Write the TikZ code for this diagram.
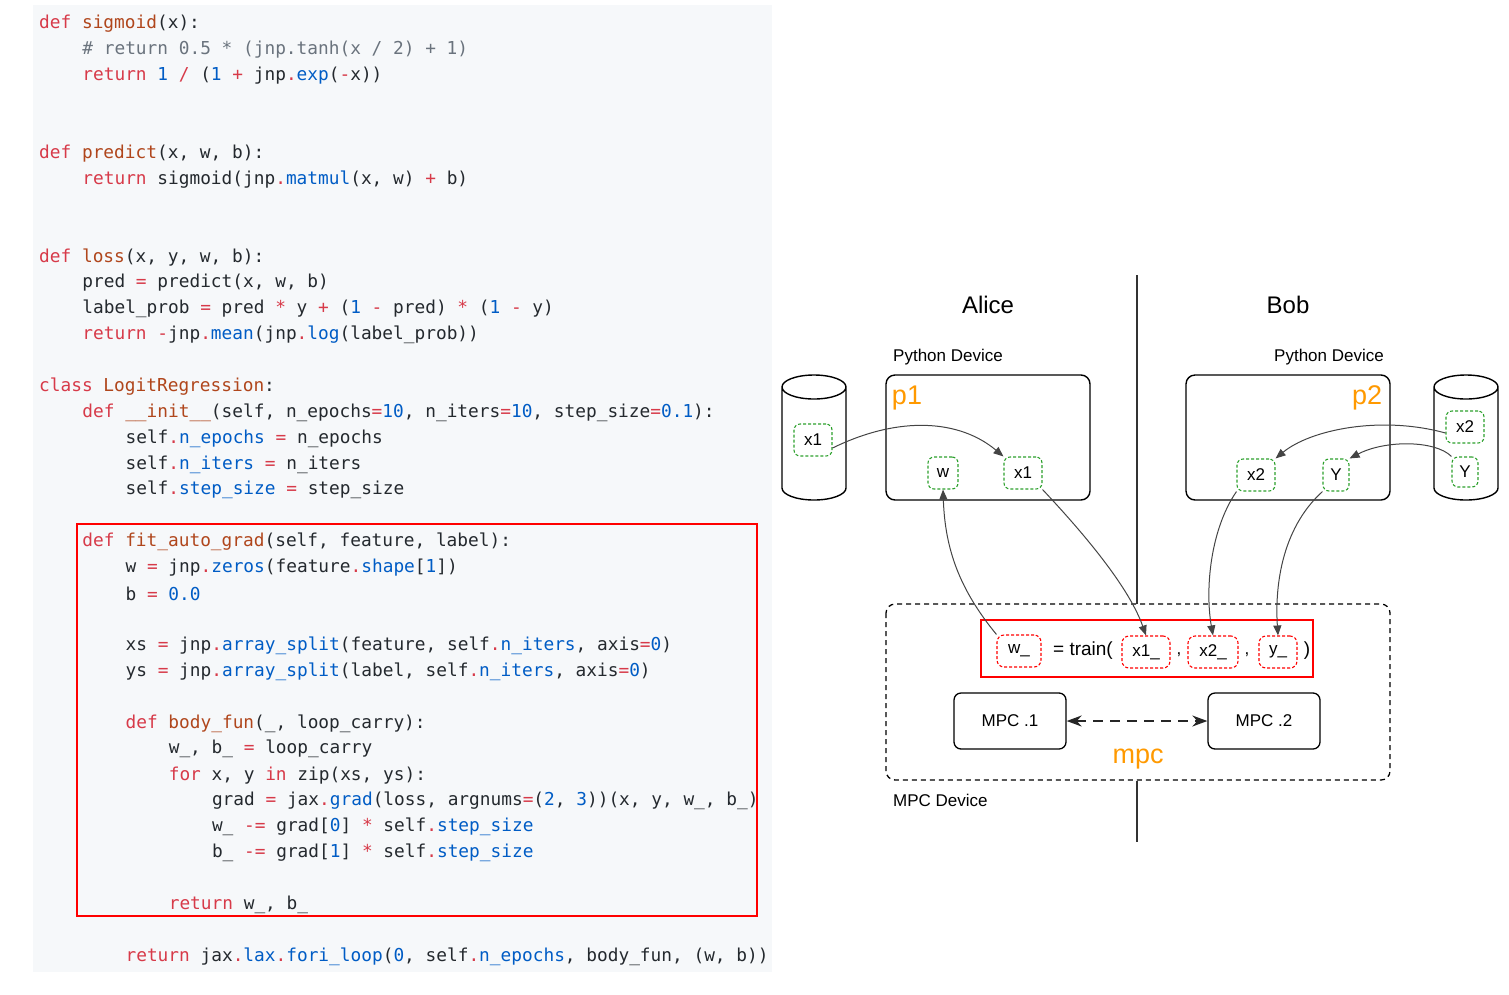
\documentclass[tikz,border=0pt]{standalone}
\usepackage{fontspec}
\setmainfont{Liberation Sans}
\newfontfamily\codefont{DejaVu Sans Mono}
\usetikzlibrary{shapes.geometric,arrows.meta}
\definecolor{ckw}{HTML}{D73A49}
\definecolor{cfn}{HTML}{B0461C}
\definecolor{cnum}{HTML}{005CC5}
\definecolor{ctxt}{HTML}{24292E}
\definecolor{ccom}{HTML}{6A737D}
\definecolor{codebg}{HTML}{F6F8FA}
\definecolor{orng}{HTML}{FF9900}
\definecolor{grn}{HTML}{2CA02C}
\definecolor{lnk}{HTML}{444444}
\newcommand{\cK}[1]{{\color{ckw}#1}}
\newcommand{\cF}[1]{{\color{cfn}#1}}
\newcommand{\cN}[1]{{\color{cnum}#1}}
\newcommand{\cC}[1]{{\color{ccom}#1}}
\begin{document}
\begin{tikzpicture}[x=1pt,y=-1pt,
  code/.style={anchor=west,inner sep=0pt,font=\codefont\fontsize{17.8}{22}\selectfont,text=ctxt},
  gv/.style={draw=grn,line width=1.1pt,dash pattern=on 3pt off 2pt,rounded corners=6pt,minimum height=32pt,inner sep=2pt,font=\fontsize{17}{19}\selectfont},
  rv/.style={draw=red,line width=1.1pt,dash pattern=on 3pt off 2pt,rounded corners=7pt,minimum height=32pt,inner sep=2pt,font=\fontsize{17}{19}\selectfont},
  box/.style={draw,rounded corners=9pt,line width=1.4pt},
  lnkarr/.style={draw=lnk,line width=1pt,-{Triangle[length=10pt,width=8pt]}},
  lbl/.style={font=\fontsize{17}{20}\selectfont,inner sep=0pt}]
\useasboundingbox (0,0) rectangle (1509,994);
\fill[codebg] (33,5) rectangle (772,972);
% code lines
\def\L#1#2#3{\node[code] (l#1) at (39+#2*10.8,24+#1*25.9) {#3};}
\L{0}{0}{\cK{def} \cF{sigmoid}(x):}
\L{1}{4}{\cC{\# return 0.5 * (jnp.tanh(x / 2) + 1)}}
\L{2}{4}{\cK{return} \cN{1} \cK{/} (\cN{1} \cK{+} jnp\cK{.}\cN{exp}(\cK{-}x))}
\L{5}{0}{\cK{def} \cF{predict}(x, w, b):}
\L{6}{4}{\cK{return} sigmoid(jnp\cK{.}\cN{matmul}(x, w) \cK{+} b)}
\L{9}{0}{\cK{def} \cF{loss}(x, y, w, b):}
\L{10}{4}{pred \cK{=} predict(x, w, b)}
\L{11}{4}{label\_prob \cK{=} pred \cK{*} y \cK{+} (\cN{1} \cK{-} pred) \cK{*} (\cN{1} \cK{-} y)}
\L{12}{4}{\cK{return} \cK{-}jnp\cK{.}\cN{mean}(jnp\cK{.}\cN{log}(label\_prob))}
\L{14}{0}{\cK{class} \cF{LogitRegression}:}
\L{15}{4}{\cK{def} \cF{\_\_init\_\_}(self, n\_epochs\cK{=}\cN{10}, n\_iters\cK{=}\cN{10}, step\_size\cK{=}\cN{0.1}):}
\L{16}{8}{self\cK{.}\cN{n\_epochs} \cK{=} n\_epochs}
\L{17}{8}{self\cK{.}\cN{n\_iters} \cK{=} n\_iters}
\L{18}{8}{self\cK{.}\cN{step\_size} \cK{=} step\_size}
\L{20}{4}{\cK{def} \cF{fit\_auto\_grad}(self, feature, label):}
\L{21}{8}{w \cK{=} jnp\cK{.}\cN{zeros}(feature\cK{.}\cN{shape}[\cN{1}])}
\L{22}{8}{b \cK{=} \cN{0.0}}
\L{24}{8}{xs \cK{=} jnp\cK{.}\cN{array\_split}(feature, self\cK{.}\cN{n\_iters}, axis\cK{=}\cN{0})}
\L{25}{8}{ys \cK{=} jnp\cK{.}\cN{array\_split}(label, self\cK{.}\cN{n\_iters}, axis\cK{=}\cN{0})}
\L{27}{8}{\cK{def} \cF{body\_fun}(\_, loop\_carry):}
\L{28}{12}{w\_, b\_ \cK{=} loop\_carry}
\L{29}{12}{\cK{for} x, y \cK{in} zip(xs, ys):}
\L{30}{16}{grad \cK{=} jax\cK{.}\cN{grad}(loss, argnums\cK{=}(\cN{2}, \cN{3}))(x, y, w\_, b\_)}
\L{31}{16}{w\_ \cK{-=} grad[\cN{0}] \cK{*} self\cK{.}\cN{step\_size}}
\L{32}{16}{b\_ \cK{-=} grad[\cN{1}] \cK{*} self\cK{.}\cN{step\_size}}
\L{34}{12}{\cK{return} w\_, b\_}
\L{36}{8}{\cK{return} jax\cK{.}\cN{lax}\cK{.}\cN{fori\_loop}(\cN{0}, self\cK{.}\cN{n\_epochs}, body\_fun, (w, b))}
\draw[red,line width=2.6pt] (77,524) rectangle (757,916);
% diagram
\draw[line width=2.4pt,black!80] (1137,275) -- (1137,604);
\draw[line width=2.4pt,black!80] (1137,781) -- (1137,842);
\node[font=\fontsize{24}{28}\selectfont] (alice) at (988,305) {Alice};
\node[font=\fontsize{24}{28}\selectfont] (bob) at (1288,305) {Bob};
\node[lbl,anchor=west] (pd1) at (893,357) {Python Device};
\node[lbl,anchor=east] (pd2) at (1384,357) {Python Device};
\draw[box] (886,375) rectangle (1090,500);
\draw[box] (1186,375) rectangle (1390,500);
\node[font=\fontsize{27}{30}\selectfont,text=orng] (p1) at (907,398) {p1};
\node[font=\fontsize{27}{30}\selectfont,text=orng] (p2) at (1367,398) {p2};
% cylinders
\draw[line width=1.4pt] (782,387) -- (782,488) arc[start angle=180,end angle=360,x radius=32,y radius=-12] -- (846,387)
  (814,387) ellipse[x radius=32,y radius=12];
\draw[line width=1.4pt] (1434,387) -- (1434,488) arc[start angle=180,end angle=360,x radius=32,y radius=-12] -- (1498,387)
  (1466,387) ellipse[x radius=32,y radius=12];
\node[gv,minimum width=38pt] (cx1) at (813,440) {x1};
\node[gv,minimum width=30pt] (w) at (943,473) {w};
\node[gv,minimum width=38pt] (x1) at (1023,473) {x1};
\node[gv,minimum width=38pt] (x2) at (1256,475) {x2};
\node[gv,minimum width=26pt] (Y) at (1336,475) {Y};
\node[gv,minimum width=38pt] (cx2) at (1465,427) {x2};
\node[gv,minimum width=26pt,minimum height=30pt] (cY) at (1465,472) {Y};
\draw[line width=1.3pt,dash pattern=on 5pt off 4pt,rounded corners=9pt] (886,604) rectangle (1390,780);
\draw[red,line width=2.6pt] (981,620) rectangle (1313,677);
\node[rv,minimum width=44pt] (w_) at (1019,651) {w\_};
\node[lbl,font=\fontsize{19}{22}\selectfont] (tr) at (1083,651) {= train(};
\node[rv,minimum width=48pt] (x1_) at (1146,652) {x1\_};
\node[lbl] (c1) at (1179,655) {,};
\node[rv,minimum width=50pt] (x2_) at (1213,652) {x2\_};
\node[lbl] (c2) at (1247,655) {,};
\node[rv,minimum width=38pt] (y_) at (1278,652) {y\_};
\node[lbl,font=\fontsize{19}{22}\selectfont] (cp) at (1307,651) {)};
\node[box,line width=1.3pt,rounded corners=7pt,minimum width=112pt,minimum height=56pt,font=\fontsize{17}{20}\selectfont] (m1) at (1010,721) {MPC .1};
\node[box,line width=1.3pt,rounded corners=7pt,minimum width=112pt,minimum height=56pt,font=\fontsize{17}{20}\selectfont] (m2) at (1264,721) {MPC .2};
\draw[black!85,line width=1.8pt,dash pattern=on 10pt off 7pt,{Stealth[length=15pt,width=11pt]}-{Stealth[length=15pt,width=11pt]}] (m1) -- (m2);
\node[font=\fontsize{27}{30}\selectfont,text=orng] (mpc) at (1138,759) {mpc};
\node[lbl,anchor=west] (md) at (893,800) {MPC Device};
% connectors
\draw[lnkarr] (cx1.east) ++(0,-8pt) .. controls (900,415) and (960,420) .. (x1.north west);
\draw[lnkarr] (w_.north west) .. controls (960,590) and (945,550) .. (w.south);
\draw[lnkarr] (x1.south east) .. controls (1090,540) and (1130,590) .. (x1_.north);
\draw[lnkarr] (x2.south west) .. controls (1210,530) and (1205,590) .. (x2_.north);
\draw[lnkarr] (Y.south west) .. controls (1280,530) and (1275,590) .. (y_.north);
\draw[lnkarr] (cx2.west) ++(0,-6pt) .. controls (1380,415) and (1310,430) .. (x2.north east);
\draw[lnkarr] (cY.north west) .. controls (1435,440) and (1385,440) .. (Y.north east);
\end{tikzpicture}
\end{document}
